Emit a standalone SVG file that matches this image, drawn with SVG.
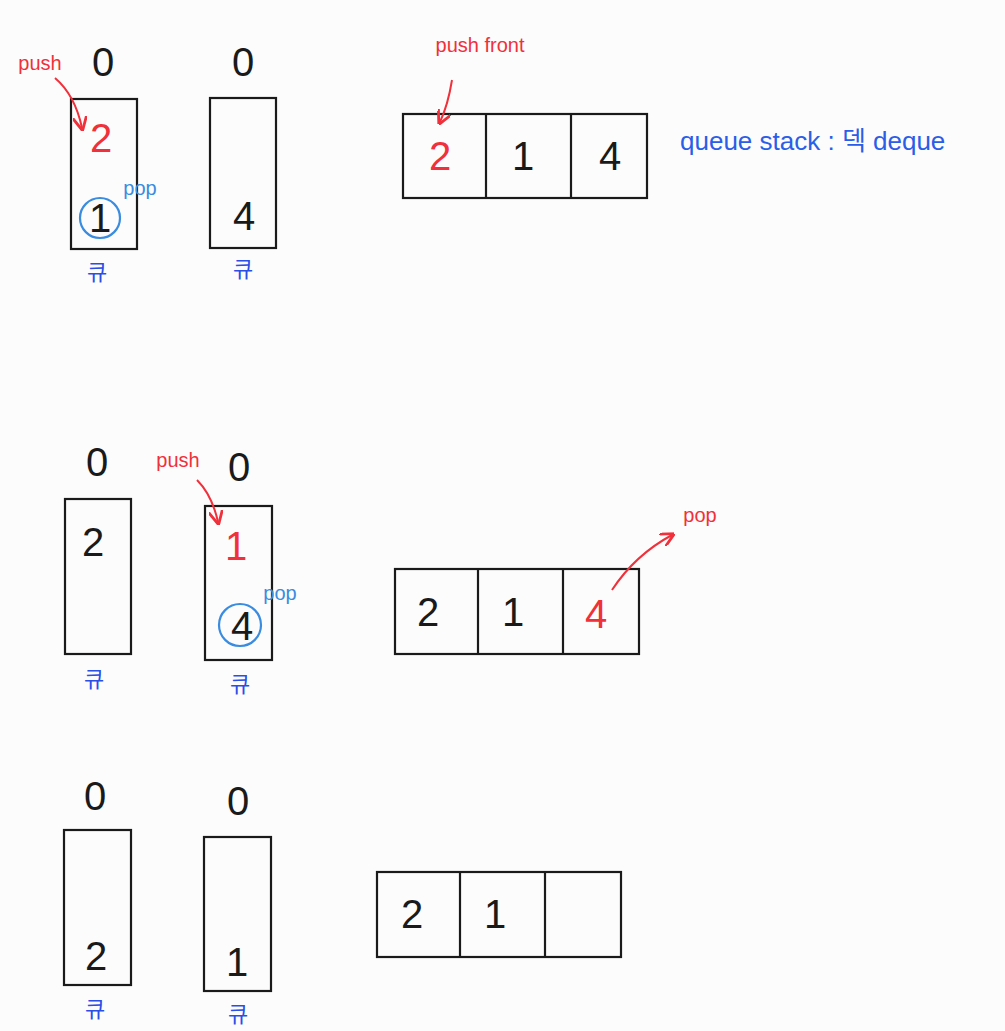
<svg xmlns="http://www.w3.org/2000/svg" width="1005" height="1031" viewBox="0 0 1005 1031">
<style>
.bx{fill:none;stroke:#1a1a1a;stroke-width:2.2}
.t{font-family:"Liberation Sans","Noto Sans CJK KR",sans-serif;text-anchor:middle}
.big{font-size:40px;fill:#1a1a1a}
.red{fill:#f0303a}
.blue{fill:#2a5ee8}
.lb{fill:#3a8ce0}
.sm{font-size:20px}
.k{font-size:22px;fill:#2a4ee8}
.ar{fill:none;stroke:#f0303a;stroke-width:2}
.c{fill:none;stroke:#3a8ce0;stroke-width:2.2}
</style>
<defs><marker id="m" viewBox="0 0 10 10" refX="8" refY="5" markerWidth="7" markerHeight="7" orient="auto"><path d="M0,0 L10,5 L0,10" fill="none" stroke="#f0303a" stroke-width="2"/></marker></defs>
<rect width="1005" height="1031" fill="#fcfcfc"/>
<g id="s1">
<text class="t big" x="103" y="76">0</text>
<text class="t big" x="243" y="76">0</text>
<text class="t red sm" x="40" y="70">push</text>
<rect class="bx" x="71" y="99" width="66" height="150"/>
<text class="t big red" x="101" y="152">2</text>
<circle class="c" cx="100" cy="218" r="20"/>
<text class="t big" x="100" y="232">1</text>
<text class="t lb sm" x="140" y="195">pop</text>
<text class="t k" x="97" y="280">큐</text>
<rect class="bx" x="210" y="98" width="66" height="150"/>
<text class="t big" x="244" y="230">4</text>
<text class="t k" x="243" y="277">큐</text>
<rect class="bx" x="403" y="114" width="244" height="84"/>
<line class="bx" x1="486" y1="114" x2="486" y2="198"/>
<line class="bx" x1="571" y1="114" x2="571" y2="198"/>
<text class="t big red" x="440" y="170">2</text>
<text class="t big" x="523" y="170">1</text>
<text class="t big" x="610" y="170">4</text>
<text class="t red sm" x="480" y="52">push front</text>
<text class="blue" x="680" y="150" font-family="Liberation Sans,Noto Sans CJK KR,sans-serif" font-size="26">queue stack : 덱 deque</text>
</g>
<g id="s2">
<text class="t big" x="97" y="476">0</text>
<text class="t big" x="239" y="481">0</text>
<rect class="bx" x="65" y="499" width="66" height="155"/>
<text class="t big" x="93" y="556">2</text>
<text class="t red sm" x="178" y="467">push</text>
<rect class="bx" x="205" y="506" width="67" height="154"/>
<text class="t big red" x="236" y="560">1</text>
<circle class="c" cx="240" cy="625" r="21"/>
<text class="t big" x="242" y="640">4</text>
<text class="t lb sm" x="280" y="600">pop</text>
<text class="t k" x="94" y="687">큐</text>
<text class="t k" x="240" y="692">큐</text>
<rect class="bx" x="395" y="569" width="244" height="85"/>
<line class="bx" x1="478" y1="569" x2="478" y2="654"/>
<line class="bx" x1="563" y1="569" x2="563" y2="654"/>
<text class="t big" x="428" y="626">2</text>
<text class="t big" x="513" y="626">1</text>
<text class="t big red" x="596" y="628">4</text>
<text class="t red sm" x="700" y="522">pop</text>
</g>
<g id="s3">
<text class="t big" x="95" y="810">0</text>
<text class="t big" x="238" y="815">0</text>
<rect class="bx" x="64" y="830" width="67" height="155"/>
<text class="t big" x="96" y="970">2</text>
<rect class="bx" x="204" y="837" width="67" height="154"/>
<text class="t big" x="237" y="976">1</text>
<text class="t k" x="95" y="1017">큐</text>
<text class="t k" x="238" y="1022">큐</text>
<rect class="bx" x="377" y="872" width="244" height="85"/>
<line class="bx" x1="460" y1="872" x2="460" y2="957"/>
<line class="bx" x1="545" y1="872" x2="545" y2="957"/>
<text class="t big" x="412" y="928">2</text>
<text class="t big" x="495" y="928">1</text>
</g>
<g id="connectors">
<path class="ar" d="M55,78 Q75,95 82,128" marker-end="url(#m)"/>
<path class="ar" d="M452,80 Q448,105 440,122" marker-end="url(#m)"/>
<path class="ar" d="M197,480 Q212,495 218,522" marker-end="url(#m)"/>
<path class="ar" d="M612,590 Q635,555 672,535" marker-end="url(#m)"/>
</g>
</svg>
